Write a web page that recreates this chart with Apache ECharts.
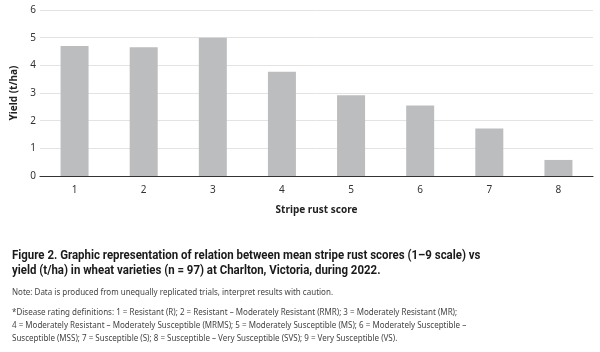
<!DOCTYPE html>
<html>
<head>
<meta charset="utf-8">
<script src="https://cdn.jsdelivr.net/npm/echarts@6/dist/echarts.min.js"></script>
<style>
  html, body { margin: 0; padding: 0; background: #fff; }
  #chart { width: 600px; height: 352px; }
</style>
</head>
<body>
<div id="chart"></div>
<script>
// stripe rust score vs yield
var scores = ['1', '2', '3', '4', '5', '6', '7', '8'];
var yieldValues = [4.70, 4.65, 5.00, 3.77, 2.92, 2.55, 1.72, 0.58];
var yTicks = [0, 6, 1]; // min, max, interval

var captionTitle = [
  'Figure 2. Graphic representation of relation between mean stripe rust scores (1–9 scale) vs',
  'yield (t/ha) in wheat varieties (n = 97) at Charlton, Victoria, during 2022.'
];
var captionNote = 'Note: Data is produced from unequally replicated trials, interpret results with caution.';
var captionDefs = [
  '*Disease rating definitions: 1 = Resistant (R); 2 = Resistant – Moderately Resistant (RMR); 3 = Moderately Resistant (MR);',
  '4 = Moderately Resistant – Moderately Susceptible (MRMS); 5 = Moderately Susceptible (MS); 6 = Moderately Susceptible –',
  'Susceptible (MSS); 7 = Susceptible (S); 8 = Susceptible – Very Susceptible (SVS); 9 = Very Susceptible (VS).'
];

var font = 'Noto Sans';

var chart = echarts.init(document.getElementById('chart'), null, { renderer: 'canvas' });

var option = {
  animation: false,
  backgroundColor: '#fff',
  grid: { left: 40, right: 7, top: 10, height: 166 },
  xAxis: {
    type: 'category',
    data: scores,
    name: 'Stripe rust score',
    nameLocation: 'middle',
    nameGap: 29,
    nameTextStyle: { fontFamily: font, fontWeight: 'bold', fontSize: 10, color: '#222' },
    axisLine: { lineStyle: { color: '#333', width: 1.2 } },
    axisTick: { show: false },
    axisLabel: { fontFamily: font, fontSize: 10, color: '#333', margin: 9 }
  },
  yAxis: {
    type: 'value',
    min: yTicks[0],
    max: yTicks[1],
    interval: yTicks[2],
    name: 'Yield (t/ha)',
    nameLocation: 'middle',
    nameGap: 14,
    nameTextStyle: { fontFamily: font, fontWeight: 'bold', fontSize: 10, color: '#222' },
    axisLine: { show: false },
    axisTick: { show: false },
    axisLabel: { fontFamily: font, fontSize: 10, color: '#333', margin: 4 },
    splitLine: { lineStyle: { color: '#e3e3e3', width: 1 } }
  },
  series: [{
    type: 'bar',
    data: yieldValues,
    barWidth: 28,
    itemStyle: { color: '#bcbdbf' }
  }],
  graphic: [
    {
      // caption title, squeezed a bit to look like the condensed original
      type: 'text', x: 12, y: 249, scaleX: 0.94,
      style: { text: captionTitle.join('\n'), font: 'bold 12.2px Roboto', fill: '#1a1a1a', lineHeight: 14.5 }
    },
    {
      type: 'text', left: 12, top: 289,
      style: { text: captionNote, font: '8px "' + font + '"', fill: '#444' }
    },
    {
      type: 'text', left: 12, top: 306,
      style: { text: captionDefs.join('\n'), font: '8px "' + font + '"', fill: '#444', lineHeight: 13 }
    }
  ]
};

chart.setOption(option);
</script>
</body>
</html>
